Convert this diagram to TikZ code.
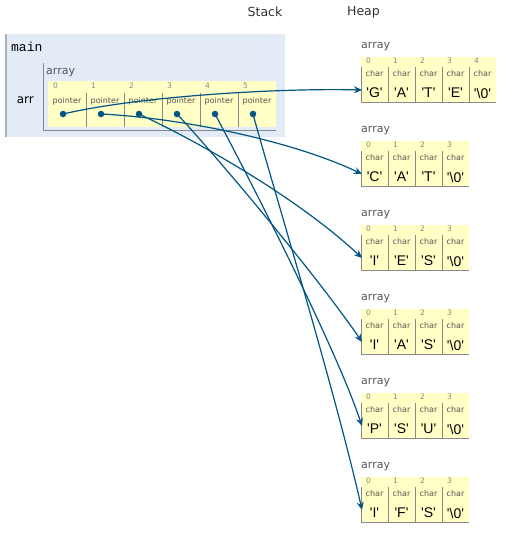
\documentclass[tikz,border=0pt]{standalone}
\usepackage{fontspec}
\setmainfont{DejaVu Sans}
\newfontfamily\valfont{Liberation Sans}
\newfontfamily\mainmono{Liberation Mono}
\usetikzlibrary{arrows.meta}
\definecolor{framebg}{HTML}{E2EBF6}
\definecolor{frameline}{HTML}{A6B3B6}
\definecolor{cellbg}{HTML}{FFFFC6}
\definecolor{cellline}{HTML}{888888}
\definecolor{ptrblue}{HTML}{005583}
\definecolor{labelgray}{HTML}{555555}
\definecolor{idxgray}{HTML}{888888}
\definecolor{headgray}{HTML}{333333}
\begin{document}
\begin{tikzpicture}[x=1pt,y=-1pt,
  arraylbl/.style={anchor=west,inner sep=0pt,text=labelgray,font=\fontsize{11}{13}\selectfont},
  idxlbl/.style={anchor=west,inner sep=0pt,text=idxgray,font=\fontsize{7.5}{9}\selectfont},
  typelbl/.style={inner sep=0pt,text=labelgray,font=\fontsize{8}{10}\selectfont},
  vallbl/.style={inner sep=0pt,text=black,font=\valfont\fontsize{14}{16}\selectfont},
  headlbl/.style={inner sep=0pt,text=headgray,font=\fontsize{12.5}{15}\selectfont},
  ptrdot/.style={circle,fill=ptrblue,inner sep=0pt,minimum size=6.5pt},
  ptrline/.style={draw=ptrblue,line width=1.2pt,-{Stealth[length=8pt,width=7pt]}},
  cellrule/.style={draw=cellline,line width=0.9pt}]
\useasboundingbox (0,0) rectangle (523,533);
\fill[white] (0,0) rectangle (523,533);

% headings
\node[headlbl] (stackh) at (265,12) {Stack};
\node[headlbl] (heaph) at (363.5,12) {Heap};

% stack frame
\fill[framebg] (5,34) rectangle (285,137);
\draw[frameline,line width=1.5pt] (5.75,34) -- (5.75,137);
\node[anchor=west,inner sep=0pt,font=\mainmono\fontsize{13}{15}\selectfont] (main) at (11,47) {main};
\node[anchor=east,inner sep=0pt,font=\fontsize{12}{14}\selectfont] (arr) at (34,100) {arr};
\node[arraylbl] (sarr) at (46,73) {array};
\fill[cellbg] (48,81) rectangle (276,127);
\draw[cellrule] (43.5,63) -- (43.5,130.5) -- (276,130.5);
\foreach \i in {0,...,5}{
  \pgfmathsetmacro{\xo}{48+38*\i}
  \node[idxlbl] (sidx\i) at (\xo+5,86) {\i};
  \node[typelbl] (styp\i) at (\xo+19,101) {pointer};
  \node[ptrdot] (p\i) at (\xo+15,114) {};
  \ifnum\i>0 \draw[cellrule] (\xo,93) -- (\xo,127); \fi
}

% heap arrays
\foreach \j/\vals in {0/{G,A,T,E,\textbackslash 0},1/{C,A,T,\textbackslash 0},2/{I,E,S,\textbackslash 0},3/{I,A,S,\textbackslash 0},4/{P,S,U,\textbackslash 0},5/{I,F,S,\textbackslash 0}}{
  \pgfmathsetmacro{\T}{57+84*\j}
  \pgfmathsetmacro{\n}{\j==0 ? 5 : 4}
  \pgfmathsetmacro{\xe}{361+27*\n}
  \node[arraylbl] (harr\j) at (361,\T-10) {array};
  \fill[cellbg] (361,\T) rectangle (\xe,\T+45);
  \draw[cellrule] (361.5,\T+10) -- (361.5,\T+45) -- (\xe,\T+45);
  \foreach \v [count=\k from 0] in \vals {
    \pgfmathsetmacro{\xc}{361+27*\k}
    \node[idxlbl] (hidx\j\k) at (\xc+5,\T+4) {\k};
    \node[typelbl] (htyp\j\k) at (\xc+13.5,\T+17) {char};
    \node[vallbl] (hval\j\k) at (\xc+13.5,\T+36) {'\v'};
    \ifnum\k>0 \draw[cellrule] (\xc,\T+10) -- (\xc,\T+45); \fi
  }
  \coordinate (tip\j) at (362,\T+33);
}

% pointers
\draw[ptrline] (p0.center) .. controls (140,96) and (280,88) .. (tip0);
\draw[ptrline] (p1.center) .. controls (180,118) and (290,140) .. (tip1);
\draw[ptrline] (p2.center) .. controls (205,145) and (300,200) .. (tip2);
\draw[ptrline] (p3.center) .. controls (220,160) and (320,280) .. (tip3);
\draw[ptrline] (p4.center) .. controls (245,170) and (335,345) .. (tip4);
\draw[ptrline] (p5.center) .. controls (268,170) and (335,390) .. (tip5);
\end{tikzpicture}
\end{document}
